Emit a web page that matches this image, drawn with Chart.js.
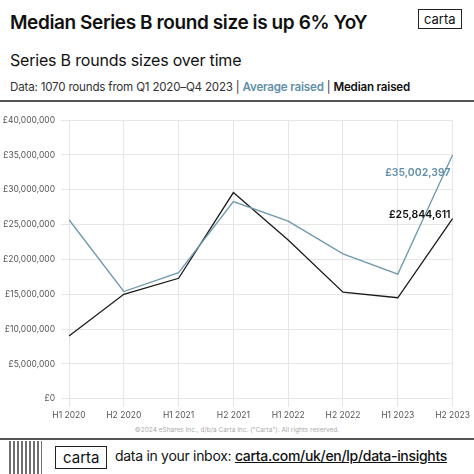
<!DOCTYPE html>
<html><head><meta charset="utf-8">
<script src="https://cdn.jsdelivr.net/npm/chart.js@4"></script>
<style>
body{margin:0;width:474px;height:474px;background:#fff;font-family:Inter,"Noto Sans",sans-serif;position:relative;overflow:hidden;color:#111}
.a{position:absolute;white-space:nowrap}
</style></head><body>
<div class="a" style="left:10px;top:11px;font-size:19px;font-weight:600;letter-spacing:-0.4px">Median Series B round size is up 6% YoY</div>
<div class="a" style="left:418px;top:9px;border:1.3px solid #222;padding:1px 5px;font-size:13px">carta</div>
<div class="a" style="left:10px;top:50px;font-size:16px;letter-spacing:-0.2px">Series B rounds sizes over time</div>
<div class="a" style="left:10px;top:80px;font-size:11.6px;letter-spacing:-0.2px;color:#333">Data: 1070 rounds from Q1 2020–Q4 2023 | <span style="color:#5f8fa8;font-weight:600">Average raised</span> | <b style="color:#111;font-weight:600">Median raised</b></div>
<div class="a" style="left:0;top:100px;width:474px;height:2px;background:#555"></div>
<div class="a" style="left:0;top:109px;width:474px;height:316px"><canvas id="c"></canvas></div>
<div class="a" style="left:0;top:426px;width:474px;text-align:center;font-size:6.5px;color:#aaa">©2024 eShares Inc., d/b/a Carta Inc. ("Carta"). All rights reserved.</div>
<div class="a" style="left:0;top:438px;width:474px;height:2px;background:#555"></div>
<div class="a" style="left:9px;top:441px;width:33px;height:33px;background:repeating-linear-gradient(90deg,#333 0 2px,#fff 2px 4px),#fff;opacity:.7"></div>
<div class="a" style="left:55px;top:446px;border:1.3px solid #222;padding:1px 7px;font-size:15px">carta</div>
<div class="a" style="left:115px;top:447px;font-size:14px;letter-spacing:-0.3px">data in your inbox: <span style="text-decoration:underline;font-weight:500">carta.com/uk/en/lp/data-insights</span></div>
<script>
const categories=["H1 2020","H2 2020","H1 2021","H2 2021","H1 2022","H2 2022","H1 2023","H2 2023"];
const averageRaised=[25700000,15400000,18100000,28300000,25500000,20800000,17900000,35002397];
const medianRaised=[9000000,15000000,17300000,29600000,22800000,15300000,14500000,25844611];
const yTicks=[0,5000000,10000000,15000000,20000000,25000000,30000000,35000000,40000000];
const fmt=v=>"£"+v.toLocaleString("en-US");
const endLabels={id:"endLabels",afterDatasetsDraw(ch){
  const ctx=ch.ctx;ctx.save();ctx.textAlign="right";ctx.font="600 10.5px Inter";
  ch.data.datasets.forEach((d,i)=>{
    const p=ch.getDatasetMeta(i).data[d.data.length-1];
    ctx.fillStyle=i===0?"#5f8fa8":"#111";
    ctx.fillText(fmt(d.data[d.data.length-1]),p.x-2,i===0?p.y+21:p.y-1);
  });ctx.restore();}};
new Chart(document.getElementById("c"),{type:"line",
data:{labels:categories,datasets:[
 {data:averageRaised,borderColor:"#6e98ab",borderWidth:1.3,pointRadius:0,tension:0},
 {data:medianRaised,borderColor:"#1a1a1a",borderWidth:1.3,pointRadius:0,tension:0}]},
options:{responsive:true,maintainAspectRatio:false,animation:false,
 layout:{padding:{left:0,right:14,top:6,bottom:0}},
 plugins:{legend:{display:false},tooltip:{enabled:false}},
 scales:{
  x:{offset:false,grid:{color:"#e6e6e6"},border:{display:false},ticks:{color:"#555",font:{size:8.5,family:"Inter"},maxRotation:0,autoSkip:false,padding:4}},
  y:{min:0,max:40000000,afterBuildTicks(s){s.ticks=yTicks.map(v=>({value:v}))},afterFit(s){s.width=69},
   grid:{color:"#e6e6e6"},border:{display:false},ticks:{color:"#555",font:{size:8.5,family:"Inter"},callback:v=>fmt(v),padding:6}}
 }},plugins:[endLabels]});
</script></body></html>
